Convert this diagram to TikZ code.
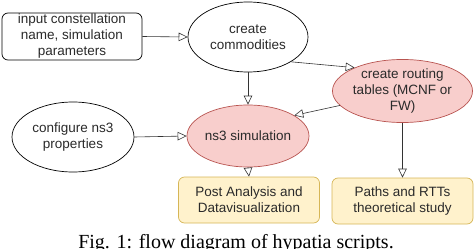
\documentclass[tikz,border=0pt]{standalone}
\usepackage{fontspec}
\setmainfont{Liberation Sans}
\newfontfamily\capfont{Liberation Serif}
\usetikzlibrary{shapes.geometric,arrows.meta}
\definecolor{redfill}{HTML}{F8CECC}
\definecolor{redline}{HTML}{B85450}
\definecolor{yelfill}{HTML}{FFF2CC}
\definecolor{yelline}{HTML}{D6B656}
\definecolor{txtgray}{HTML}{2A2A2A}
\tikzset{
    stepnode/.style={align=center,text=txtgray,inner sep=0pt,font=\fontsize{13.5}{16}\selectfont},
    oval/.style={stepnode,ellipse,draw=black,line width=0.7pt,minimum width=120,minimum height=70},
    redoval/.style={oval,draw=redline,fill=redfill},
    roundbox/.style={stepnode,draw=black,rounded corners=6,line width=0.7pt,minimum width=140,minimum height=47},
    yelbox/.style={roundbox,draw=yelline,fill=yelfill,minimum width=141,minimum height=46},
    flow/.style={draw=black!80,line width=0.6pt,-{Triangle[open,length=9pt,width=8.5pt]}}
}
\begin{document}
\begin{tikzpicture}[x=1pt,y=-1pt]
    \useasboundingbox (0,0) rectangle (474,249);
    \node[roundbox] (input) at (72,36.5) {input constellation\\name, simulation\\parameters};
	\node[oval] (comm) at (248,37) {create\\commodities};
	\node[redoval,minimum width=119,minimum height=54] (route) at (402.5,91) {create routing\\tables (MCNF or\\FW)};
	\node[oval,minimum width=122] (config) at (73,137) {configure ns3\\properties};
	\node[redoval,minimum width=116,minimum height=62] (sim) at (248,136) {ns3 simulation};
    \node[yelbox] (post) at (249,200) {Post Analysis and\\Datavisualization};
    \node[yelbox] (paths) at (402.5,201) {Paths and RTTs\\theoretical study};
	\node[font=\capfont\fontsize{20}{24}\selectfont,inner sep=0pt,anchor=base] (cap) at (236,248) {Fig. 1: flow diagram of hypatia scripts.};
    % connectors
    \draw[flow] (input.east) -- (comm.west);
    \draw[flow] (comm.-30) -- (route.154);
    \draw[flow] (comm.south) -- (sim.north);
    \draw[flow] (route.193) -- (sim.24);
    \draw[flow] (config.east) -- (sim.west);
    \draw[flow] (sim.south) -- (post.north);
    \draw[flow] (route.south) -- (paths.north);
\end{tikzpicture}
\end{document}
